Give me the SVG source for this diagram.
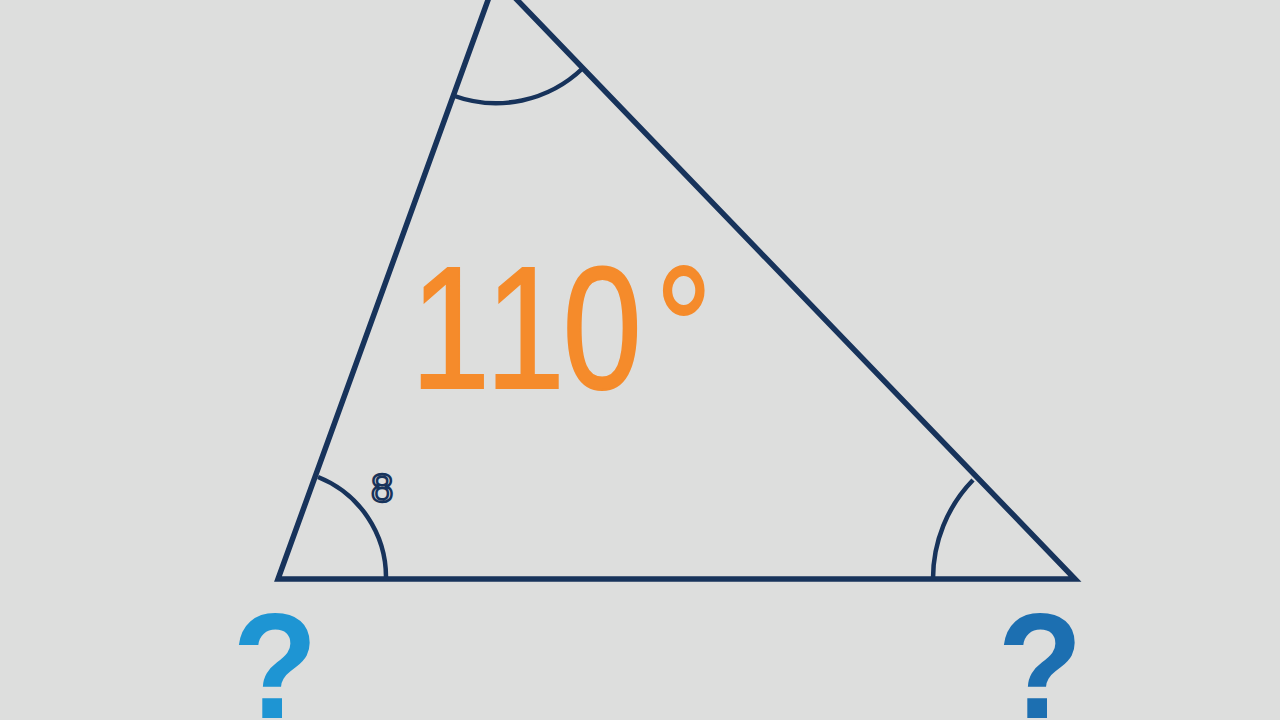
<svg xmlns="http://www.w3.org/2000/svg" width="1280" height="720" viewBox="0 0 1280 720">
  <style>
    .edge { fill: none; stroke: #17335b; stroke-width: 5.5; stroke-linejoin: miter; stroke-miterlimit: 20; }
    .arc { fill: none; stroke: #17335b; stroke-width: 4.5; }
    .angle { font-family: "Liberation Sans", Arial, sans-serif; font-size: 174px; fill: #f58b2b; stroke: #f58b2b; stroke-width: 2; }
    .q { font-family: "Liberation Sans", Arial, sans-serif; font-weight: bold; font-size: 150px; text-anchor: middle; }
  </style>
  <rect width="1280" height="720" fill="#dddedd"/>
  <g id="triangle">
    <path class="edge" d="M496,-22 L278,579 L1075,579 Z"/>
  </g>
  <g id="angle-arcs">
    <path class="arc" d="M453,95.5 A125,125 0 0 0 583,68"/>
    <path class="arc" d="M318,477 A108,108 0 0 1 386,579"/>
    <path class="arc" d="M973,480 A142,142 0 0 0 933,579"/>
  </g>
  <g id="mark">
    <text x="371" y="502" font-family="'Liberation Sans', Arial, sans-serif" font-size="40" fill="none" stroke="#17335b" stroke-width="2.5">8</text>
  </g>
  <g id="angle-label">
    <text class="angle" transform="scale(0.82,1)" x="501 592 686 799" y="388">110°</text>
  </g>
  <g id="question-left">
    <text class="q" transform="translate(275,0) scale(0.93,1)" x="0" y="718" fill="#1e95d3">?</text>
  </g>
  <g id="question-right">
    <text class="q" transform="translate(1040,0) scale(0.93,1)" x="0" y="718" fill="#1c6fb1">?</text>
  </g>
</svg>
